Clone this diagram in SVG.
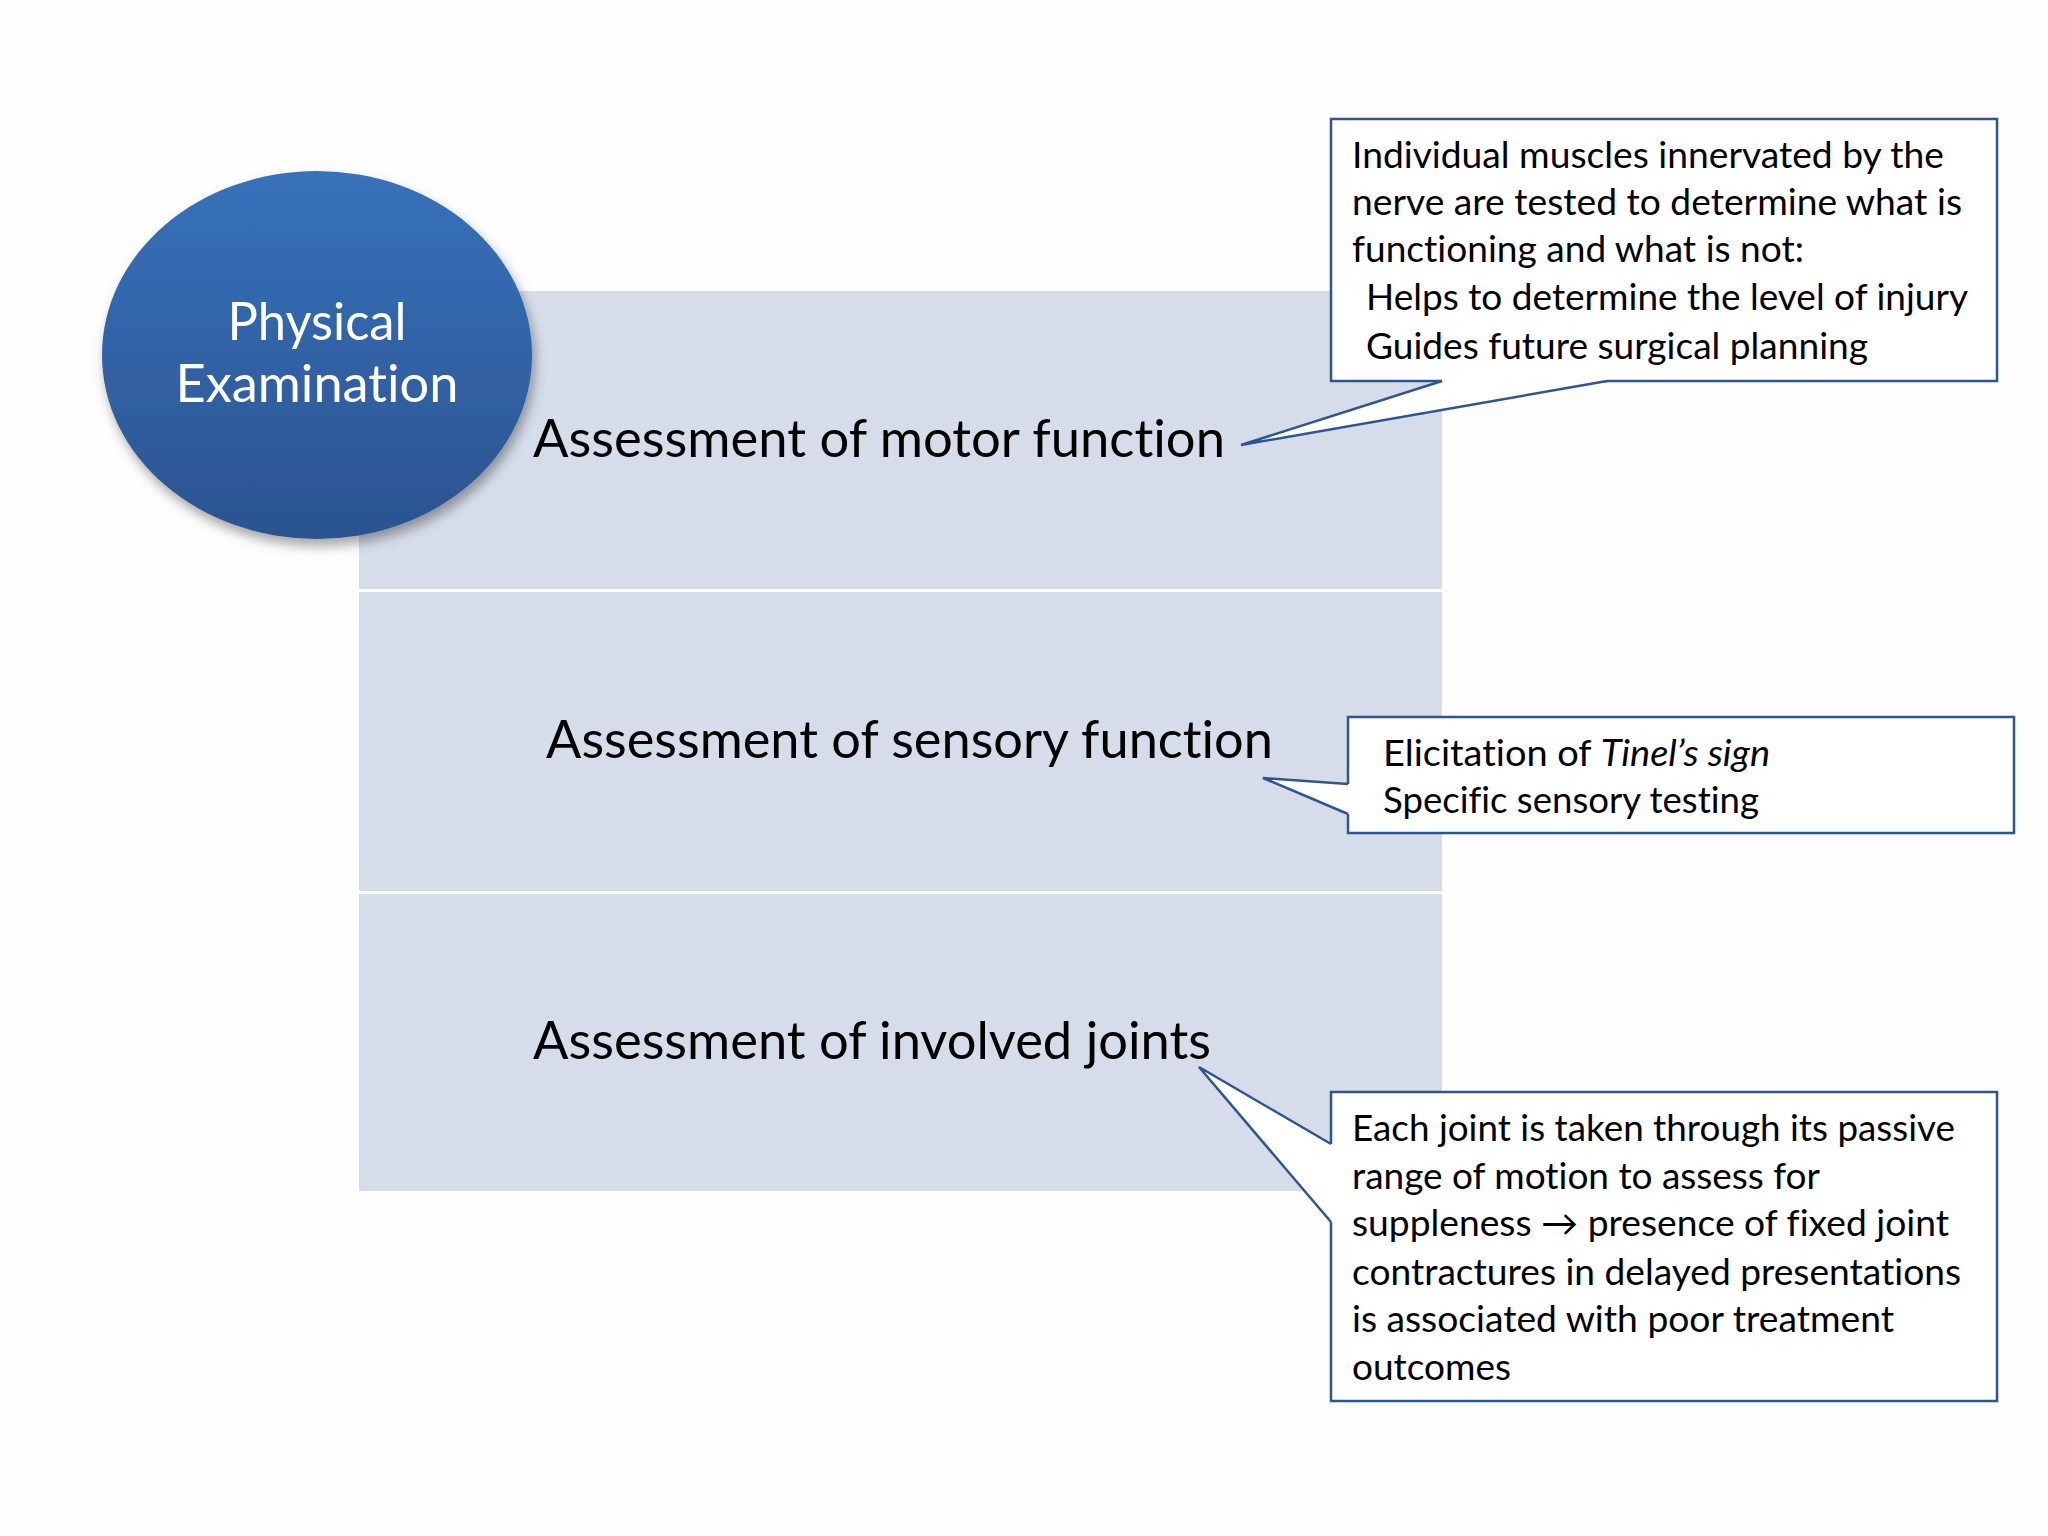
<svg xmlns="http://www.w3.org/2000/svg" width="2048" height="1536" viewBox="0 0 2048 1536">
<defs>
<linearGradient id="gc" x1="0" y1="0" x2="0" y2="1">
<stop offset="0" stop-color="#3772bb"/>
<stop offset="1" stop-color="#2b5390"/>
</linearGradient>
<filter id="sh" x="-20%" y="-20%" width="140%" height="140%">
<feDropShadow dx="3" dy="7" stdDeviation="6" flood-color="#000" flood-opacity="0.35"/>
</filter>
<style>
text{font-variant-ligatures:none;font-feature-settings:"liga" 0,"clig" 0,"dlig" 0}
.row{fill:#d6dce9}
.main{font-family:Lato,"Open Sans",sans-serif;font-size:52px;fill:#000}
.ct{font-family:Lato,"Open Sans",sans-serif;font-size:36px;fill:#000}
.box{fill:#fff;stroke:#2d5592;stroke-width:2.5}
.tailfill{fill:#fff;stroke:none}
.tail{fill:none;stroke:#2d5592;stroke-width:2.5;stroke-linejoin:miter}
.circ{font-family:Lato,"Open Sans",sans-serif;font-size:52px;fill:#fff;text-anchor:middle}
</style>
</defs>
<rect width="2048" height="1536" fill="#fdfdfe"/>
<g id="row-motor">
<rect class="row" x="359" y="291" width="1083" height="298"/>
<text class="main" x="533" y="457" textLength="692" lengthAdjust="spacingAndGlyphs">Assessment of motor function</text>
</g>
<g id="row-sensory">
<rect class="row" x="359" y="592" width="1083" height="299"/>
<text class="main" x="546" y="758" textLength="727" lengthAdjust="spacingAndGlyphs">Assessment of sensory function</text>
</g>
<g id="row-joints">
<rect class="row" x="359" y="894" width="1083" height="297"/>
<text class="main" x="533" y="1059" textLength="678" lengthAdjust="spacingAndGlyphs">Assessment of involved joints</text>
</g>
<g id="physical-examination">
<ellipse cx="317" cy="355" rx="215" ry="184" fill="url(#gc)" filter="url(#sh)"/>
<text class="circ" x="317" y="340" textLength="179" lengthAdjust="spacingAndGlyphs">Physical</text>
<text class="circ" x="317" y="402" textLength="283" lengthAdjust="spacingAndGlyphs">Examination</text>
</g>
<g id="callout-motor">
<rect class="box" x="1331" y="119" width="666" height="262"/>
<text class="ct" x="1352" y="168" textLength="592" lengthAdjust="spacingAndGlyphs">Individual muscles innervated by the</text>
<text class="ct" x="1352" y="215" textLength="610" lengthAdjust="spacingAndGlyphs">nerve are tested to determine what is</text>
<text class="ct" x="1352" y="262" textLength="452" lengthAdjust="spacingAndGlyphs">functioning and what is not:</text>
<text class="ct" x="1366" y="310" textLength="602" lengthAdjust="spacingAndGlyphs">Helps to determine the level of injury</text>
<text class="ct" x="1366" y="359" textLength="502" lengthAdjust="spacingAndGlyphs">Guides future surgical planning</text>
</g>
<g id="callout-sensory">
<rect class="box" x="1348" y="717" width="666" height="116"/>
<text class="ct" x="1383" y="766" textLength="387" lengthAdjust="spacingAndGlyphs">Elicitation of <tspan font-style="italic">Tinel’s sign</tspan></text>
<text class="ct" x="1383" y="813" textLength="376" lengthAdjust="spacingAndGlyphs">Specific sensory testing</text>
</g>
<g id="callout-joints">
<rect class="box" x="1331" y="1092" width="666" height="309"/>
<text class="ct" x="1352" y="1141" textLength="603" lengthAdjust="spacingAndGlyphs">Each joint is taken through its passive</text>
<text class="ct" x="1352" y="1189" textLength="468" lengthAdjust="spacingAndGlyphs">range of motion to assess for</text>
<text class="ct" x="1352" y="1236" textLength="597" lengthAdjust="spacingAndGlyphs">suppleness → presence of fixed joint</text>
<text class="ct" x="1352" y="1285" textLength="609" lengthAdjust="spacingAndGlyphs">contractures in delayed presentations</text>
<text class="ct" x="1352" y="1332" textLength="542" lengthAdjust="spacingAndGlyphs">is associated with poor treatment</text>
<text class="ct" x="1352" y="1380" textLength="159" lengthAdjust="spacingAndGlyphs">outcomes</text>
</g>
<g id="connectors">
<polygon class="tailfill" points="1442,376 1442,381 1241,445 1607,381 1607,376"/>
<polyline class="tail" points="1442,381 1241,445 1607,381"/>
<polygon class="tailfill" points="1353,784 1348,784 1263,778 1348,814 1353,814"/>
<polyline class="tail" points="1348,784 1263,778 1348,814"/>
<polygon class="tailfill" points="1336,1144 1331,1144 1199,1067 1331,1222 1336,1222"/>
<polyline class="tail" points="1331,1144 1199,1067 1331,1222"/>
</g>
</svg>
